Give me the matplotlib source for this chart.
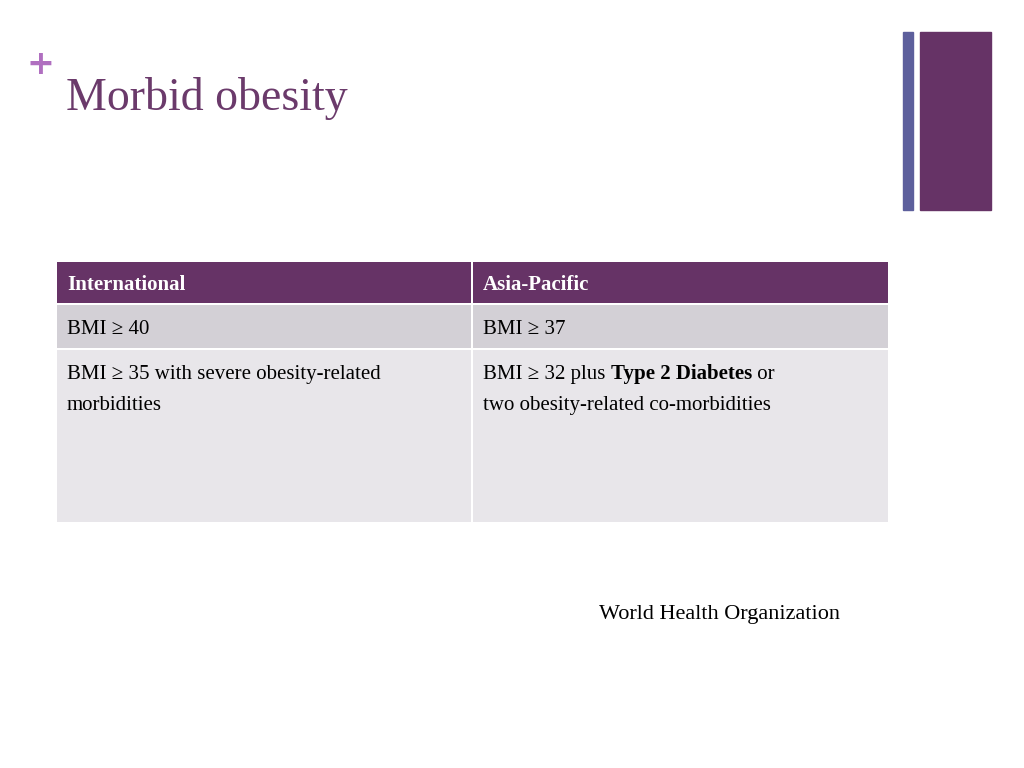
import matplotlib
matplotlib.use("Agg")
import matplotlib.pyplot as plt
from matplotlib.patches import Rectangle

title = "Morbid obesity"
headers = ["International", "Asia-Pacific"]
row1 = ["BMI \u2265 40", "BMI \u2265 37"]
row2_left = ["BMI \u2265 35 with severe obesity-related", "morbidities"]
# right cell of row 2: (text, bold) pieces on first line, then second line
row2_right_line1 = [("BMI \u2265 32 plus ", False), ("Type 2 Diabetes", True), (" or", False)]
row2_right_line2 = "two obesity-related co-morbidities"
source = "World Health Organization"

PURPLE = "#663366"
FONT = "Liberation Serif"

fig = plt.figure(figsize=(10.24, 7.68), dpi=100)
ax = fig.add_axes([0, 0, 1, 1])
ax.set_xlim(0, 1024)
ax.set_ylim(768, 0)
ax.axis("off")

# decorative bars and plus sign
ax.add_patch(Rectangle((903, 32), 10, 178, color="#5d5f9c"))
ax.add_patch(Rectangle((920, 32), 71, 178, color=PURPLE))
ax.text(40, 64, "+", color="#b06fc0", fontsize=24, fontfamily="DejaVu Sans",
        fontweight="bold", ha="center", va="center")
ax.text(66, 110, title, color="#6b3a6b", fontsize=33, fontfamily=FONT, va="baseline")

# table
cols = [(57, 471), (473, 888)]
rows = [(262, 303, PURPLE), (305, 348, "#d3d0d6"), (350, 522, "#e8e6ea")]
for (y0, y1, c) in rows:
    for (x0, x1) in cols:
        ax.add_patch(Rectangle((x0, y0), x1 - x0, y1 - y0, color=c, lw=0))

fs = 15
for (x0, _), h in zip(cols, headers):
    ax.text(x0 + 10, 290, h, color="white", fontsize=fs, fontweight="bold",
            fontfamily=FONT, va="baseline")
for (x0, _), t in zip(cols, row1):
    ax.text(x0 + 10, 334, t, color="black", fontsize=fs, fontfamily=FONT, va="baseline")
for i, t in enumerate(row2_left):
    ax.text(cols[0][0] + 10, 379 + i * 31, t, color="black", fontsize=fs,
            fontfamily=FONT, va="baseline")

fig.canvas.draw()
r = fig.canvas.get_renderer()
x = cols[1][0] + 10
for t, b in row2_right_line1:
    tx = ax.text(x, 379, t, color="black", fontsize=fs, fontfamily=FONT,
                 fontweight="bold" if b else "normal", va="baseline")
    bb = tx.get_window_extent(renderer=r)
    x += bb.width
ax.text(cols[1][0] + 10, 410, row2_right_line2, color="black", fontsize=fs,
        fontfamily=FONT, va="baseline")

ax.text(840, 619, source, color="black", fontsize=16, fontfamily=FONT,
        ha="right", va="baseline")

fig.savefig("out.png", dpi=100)
